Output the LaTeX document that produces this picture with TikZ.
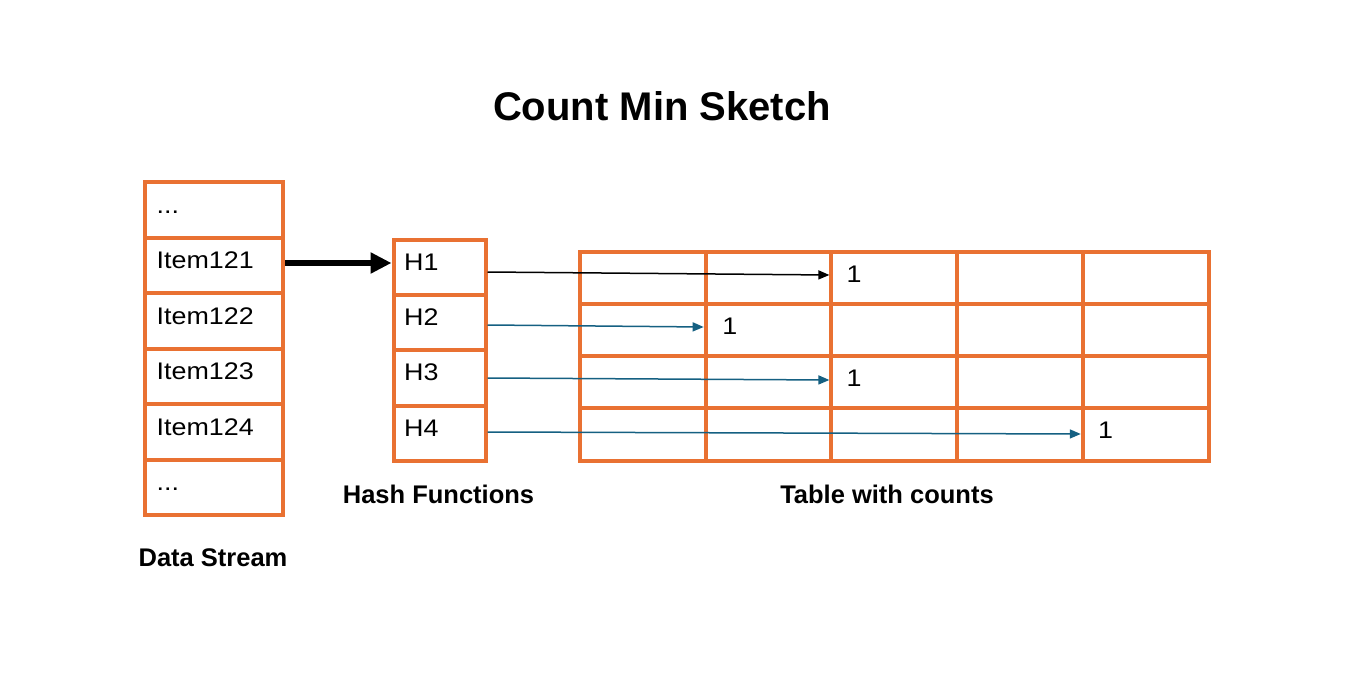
\documentclass[tikz,border=0pt]{standalone}
\usepackage{fontspec}
\setmainfont{Liberation Sans}
\newfontfamily\regfont[FakeStretch=1.12]{Liberation Sans}
\usetikzlibrary{arrows.meta,calc}
\definecolor{cellorange}{HTML}{E97132}
\definecolor{arrowblue}{HTML}{156082}
\begin{document}
\begin{tikzpicture}[x=1pt,y=-1pt,
  cellbox/.style={draw=cellorange, line width=4pt, fill=white, inner sep=0pt},
  dcell/.style={cellbox, minimum width=138pt, minimum height=55.5pt},
  hcell/.style={cellbox, minimum width=92pt, minimum height=55.4pt},
  tcell/.style={cellbox, minimum width=125.7pt, minimum height=52.3pt},
  txt/.style={inner sep=0pt, anchor=base west, font=\regfont\fontsize{24}{28}\selectfont},
  lbl/.style={inner sep=0pt, anchor=base, font=\bfseries\fontsize{25.5}{30}\selectfont},
  thinarrow/.style={line width=1.5pt, -{Triangle[length=11pt,width=9pt]}},
  bigarrow/.style={line width=6pt, -{Triangle[length=21pt,width=20pt]}}
]
\fill[white] (0,0) rectangle (1358,698);
\useasboundingbox (0,0) rectangle (1358,698);

% title
\node[inner sep=0pt, anchor=base, font=\bfseries\fontsize{40}{46}\selectfont] (title) at (662,121) {Count Min Sketch};

% data stream column
\foreach \i in {1,...,6}
  \node[dcell] (d\i) at (214,{182+55.5*(\i-0.5)}) {};
\node[txt] (d1t) at ($(d1.north west)+(13.5,33)$) {...};
\node[txt] (d2t) at ($(d2.north west)+(13.5,33)$) {Item121};
\node[txt] (d3t) at ($(d3.north west)+(13.5,33)$) {Item122};
\node[txt] (d4t) at ($(d4.north west)+(13.5,33)$) {Item123};
\node[txt] (d5t) at ($(d5.north west)+(13.5,33)$) {Item124};
\node[txt] (d6t) at ($(d6.north west)+(13.5,33)$) {...};

% hash functions column
\foreach \i in {1,...,4}
  \node[hcell] (h\i) at (439.5,{239.5+55.4*(\i-0.5)}) {};
\foreach \i in {1,...,4}
  \node[txt] (h\i t) at ($(h\i.north west)+(12.5,32.5)$) {H\i};

% table with counts
\foreach \i in {1,...,4}
  \foreach \j in {1,...,5}
    \node[tcell] (t\i\j) at ({580+125.7*(\j-0.5)},{251.5+52.3*(\i-0.5)}) {};
\node[txt] (c13) at ($(t13.north west)+(17,32.5)$) {1};
\node[txt] (c22) at ($(t22.north west)+(18.5,32.5)$) {1};
\node[txt] (c33) at ($(t33.north west)+(17,32.5)$) {1};
\node[txt] (c45) at ($(t45.north west)+(17,32.5)$) {1};

% labels
\node[lbl] (hashlbl) at (438.5,503) {Hash Functions};
\node[lbl] (tablelbl) at (887,503) {Table with counts};
\node[lbl] (datalbl) at (213,566) {Data Stream};

% arrows
\draw[bigarrow] ([yshift=2.25pt]d2.east) -- ([yshift=2.25pt]d2.east -| h1.west);
\draw[thinarrow, black] ([yshift=-4.8pt]h1.east) -- ([yshift=2.65pt]t13.west);
\draw[thinarrow, arrowblue] ([yshift=-2.4pt]h2.east) -- ([yshift=2.95pt]t22.west);
\draw[thinarrow, arrowblue] ([yshift=0pt]h3.east) -- ([yshift=2.25pt]t33.west);
\draw[thinarrow, arrowblue] ([yshift=1.4pt]h4.east) -- ([yshift=0.55pt]t45.west);
\end{tikzpicture}
\end{document}
